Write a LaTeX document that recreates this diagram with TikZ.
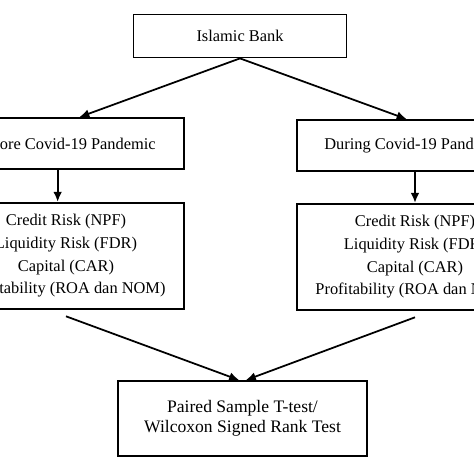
\documentclass[tikz,border=0pt]{standalone}
\usepackage{fontspec}
\setmainfont{Liberation Serif}
\usepackage{tikz}
\usetikzlibrary{arrows.meta,positioning}

\begin{document}
\begin{tikzpicture}[
  bankbox/.style={draw, line width=1.5pt, minimum width=6.39cm, minimum height=1.29cm, align=center, font=\fontsize{14pt}{17pt}\selectfont},
  periodbox/.style={draw, line width=1.5pt, minimum width=7.08cm, minimum height=1.53cm, align=center, font=\fontsize{14pt}{17pt}\selectfont},
  ratiobox/.style={draw, line width=1.5pt, minimum width=7.08cm, minimum height=3.18cm, align=center, font=\fontsize{14pt}{19.4pt}\selectfont},
  testbox/.style={draw, line width=1.5pt, minimum width=7.47cm, minimum height=2.25cm, align=center, font=\fontsize{15pt}{16.8pt}\selectfont},
  arrow/.style={-{Latex[length=3mm, width=2.6mm]}, line width=1.5pt}
]
\useasboundingbox (0,0) rectangle (14.22,-14.22);
\clip (0,0) rectangle (14.22,-14.22);

\node[bankbox] (bank) at (7.2,-1.08) {Islamic Bank};
\node[periodbox] (before) at (1.98,-4.305) {Before Covid-19 Pandemic};
\node[periodbox] (during) at (12.45,-4.365) {During Covid-19 Pandemic};
\node[ratiobox, below=0.96cm of before] (beforer) {Credit Risk (NPF)\\Liquidity Risk (FDR)\\Capital (CAR)\\Profitability (ROA dan NOM)};
\node[ratiobox, below=0.93cm of during] (duringr) {Credit Risk (NPF)\\Liquidity Risk (FDR)\\Capital (CAR)\\Profitability (ROA dan NOM)};
\node[testbox] (test) at (7.275,-12.555) {Paired Sample T-test/\\Wilcoxon Signed Rank Test};

\draw[arrow] (bank.south) -- ([xshift=4mm]before.north);
\draw[arrow] (bank.south) -- ([xshift=-2.5mm]during.north);
\draw[arrow] ([xshift=-2.5mm]before.south) -- ([xshift=-2.5mm]beforer.north);
\draw[arrow] (during.south) -- (duringr.north);
\draw[arrow] ([yshift=-2mm]beforer.south) -- ([xshift=-1mm]test.north);
\draw[arrow] ([yshift=-2mm]duringr.south) -- ([xshift=1mm]test.north);
\end{tikzpicture}
\end{document}
